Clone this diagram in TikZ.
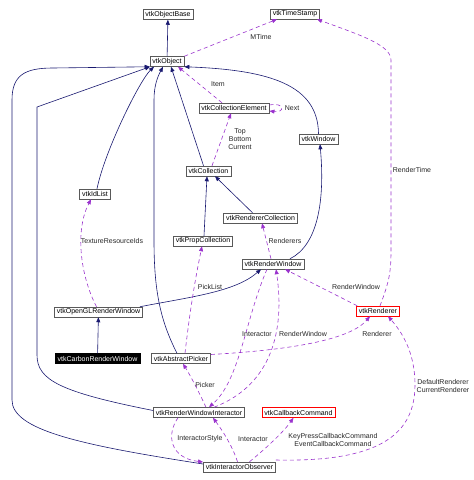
\documentclass[tikz,border=0pt]{standalone}
\usepackage{fontspec}
\setmainfont{Liberation Sans}
\usetikzlibrary{arrows.meta,calc}
\definecolor{navy}{RGB}{25,25,112}
\definecolor{purp}{RGB}{154,50,205}

\begin{document}
\begin{tikzpicture}[x=1pt,y=-1pt,
  cls/.style={draw=black!65,fill=white,line width=0.5pt,inner xsep=2.5pt,inner ysep=0pt,minimum height=10pt,font=\fontsize{7}{8}\selectfont},
  lbl/.style={font=\fontsize{7}{8}\selectfont,text=black!85,align=center,inner sep=0pt},
  inh/.style={draw=navy,line width=0.6pt,-{Triangle[length=5pt,width=4pt]}},
  use/.style={draw=purp,line width=0.6pt,dash pattern=on 4pt off 3pt,-{Triangle[length=5pt,width=4pt]}}]
  \useasboundingbox (0,0) rectangle (474,480);

  % classi
  \node[cls] (objbase) at (168,14.5) {vtkObjectBase};
  \node[cls] (ts) at (295,14) {vtkTimeStamp};
  \node[cls] (obj) at (167,61.5) {vtkObject};
  \node[cls] (colel) at (234,108) {vtkCollectionElement};
  \node[cls] (win) at (318.5,139) {vtkWindow};
  \node[cls] (coll) at (208.5,171) {vtkCollection};
  \node[cls] (idlist) at (95,194) {vtkIdList};
  \node[cls] (rendcoll) at (260.5,218) {vtkRendererCollection};
  \node[cls] (propcoll) at (203,241) {vtkPropCollection};
  \node[cls] (rw) at (273,264) {vtkRenderWindow};
  \node[cls] (ogl) at (98.5,312) {vtkOpenGLRenderWindow};
  \node[cls,draw=red] (ren) at (378,311) {vtkRenderer};
  \node[cls,fill=black,text=white,draw=black] (carbon) at (97.5,358.5) {vtkCarbonRenderWindow};
  \node[cls] (picker) at (181,358.5) {vtkAbstractPicker};
  \node[cls] (rwi) at (199,412.5) {vtkRenderWindowInteractor};
  \node[cls,draw=red] (cb) at (298.5,412.5) {vtkCallbackCommand};
  \node[cls] (io) at (239.5,467) {vtkInteractorObserver};

  % ereditarieta
  \draw[inh] (obj) -- (objbase);
  \draw[inh] ($(coll.north)+(-5,0)$) -- ($(obj.south)+(4,0)$);
  \draw[inh] ($(idlist.north)+(2,0)$) .. controls (105,150) and (140,80) .. ($(obj.south)+(-13,0)$);
  \draw[inh] ($(picker.north)+(-4,0)$) .. controls (160,320) and (154,290) .. (154,240)
    -- (154,100) .. controls (154,85) and (158,76) .. ($(obj.south)+(-4,0)$);
  \draw[inh] ($(rwi.west)+(0,-2)$) .. controls (60,392) and (37,380) .. (37,355)
    -- (37,107) -- ($(obj.south)+(-17,0)$);
  \draw[inh] ($(io.west)+(0,-3)$) .. controls (80,445) and (12,430) .. (12,400)
    -- (12,100) .. controls (12,75) and (25,68) .. (53,68) -- (obj.south west);
  \draw[inh] (win.north) .. controls (318,85) and (270,70) .. (obj.south east);
  \draw[inh] ($(rw.north)+(17,0)$) .. controls (318,245) and (325,200) .. ($(win.south)+(1.5,0)$);
  \draw[inh] ($(rendcoll.north)+(-8,0)$) -- ($(coll.south)+(6.5,0)$);
  \draw[inh] ($(propcoll.north)+(1,0)$) -- ($(coll.south)+(-1.5,0)$);
  \draw[inh] ($(ogl.north east)+(-3,0)$) .. controls (190,297) and (235,292) .. ($(rw.south)+(-12,0)$);
  \draw[inh] (carbon) -- (ogl);

  % membri
  \draw[use] (obj.north east) -- ($(ts.south)+(-18,0)$);
  \node[lbl] (l-mtime) at (261,37) {MTime};
  \draw[use] ($(ren.north)+(2,0)$) .. controls (390,280) and (391,270) .. (391,250)
    -- (391,60) .. controls (391,45) and (360,35) .. ($(ts.south)+(22,0)$);
  \node[lbl] (l-rtime) at (412,170) {RenderTime};
  \draw[use] ($(colel.north)+(-12,0)$) -- ($(obj.south)+(11,0)$);
  \node[lbl] (l-item) at (218,84) {Item};
  \draw[use] ($(colel.east)+(0,-3)$) .. controls (285,102) and (285,113) .. ($(colel.east)+(0,3)$);
  \node[lbl] (l-next) at (292,108) {Next};
  \draw[use] ($(coll.north)+(3.5,0)$) -- ($(colel.south)+(-3,0)$);
  \node[lbl] (l-top) at (240,139) {Top\\Bottom\\Current};
  \draw[use] ($(ogl.north)+(-2,0)$) .. controls (80,275) and (75,230) .. ($(idlist.south)+(-4,0)$);
  \node[lbl] (l-tex) at (112,241) {TextureResourceIds};
  \draw[use] ($(rw.north)+(-2,0)$) -- ($(rendcoll.south)+(1.5,0)$);
  \node[lbl] (l-rends) at (285,241) {Renderers};
  \draw[use] ($(picker.north)+(4,0)$) .. controls (190,310) and (195,280) .. ($(propcoll.south)+(-1,0)$);
  \node[lbl] (l-pick) at (210,287) {PickList};
  \draw[use] ($(rwi.north)+(15,0)$) .. controls (272,385) and (285,330) .. ($(rw.south)+(3,0)$);
  \node[lbl] (l-rwin) at (303,334) {RenderWindow};
  \draw[use] ($(rw.south)+(-6,0)$) .. controls (245,320) and (240,380) .. ($(rwi.north)+(10,0)$);
  \node[lbl] (l-inter) at (257,334) {Interactor};
  \draw[use] ($(ren.north west)+(1,0)$) -- ($(rw.south)+(12,0)$);
  \node[lbl] (l-rwin2) at (356,287) {RenderWindow};
  \draw[use] ($(picker.east)+(0,-4)$) .. controls (290,350) and (350,340) .. ($(ren.south)+(-8,0)$);
  \node[lbl] (l-ren) at (377,334) {Renderer};
  \draw[use] ($(rwi.north)+(7,0)$) .. controls (198,390) and (190,375) .. ($(picker.south)+(2,0)$);
  \node[lbl] (l-picker) at (205,385) {Picker};
  \draw[use] ($(io.north)+(-2,0)$) .. controls (232,445) and (222,430) .. ($(rwi.south)+(14,0)$);
  \node[lbl] (l-inter2) at (253,439) {Interactor};
  \draw[use] ($(rwi.south)+(-21,0)$) .. controls (166,435) and (170,458) .. ($(io.west)+(0,-5)$);
  \node[lbl] (l-style) at (200,439) {InteractorStyle};
  \draw[use] ($(io.north)+(10,0)$) .. controls (270,445) and (285,430) .. ($(cb.south)+(-5,0)$);
  \node[lbl] (l-cb) at (333,439.5) {KeyPressCallbackCommand\\EventCallbackCommand};
  \draw[use] ($(io.east)+(0,-7)$) .. controls (370,462) and (415,440) .. (415,385)
    .. controls (415,350) and (400,330) .. ($(ren.south)+(10,0)$);
  \node[lbl] (l-def) at (443,385.5) {DefaultRenderer\\CurrentRenderer};
\end{tikzpicture}
\end{document}
